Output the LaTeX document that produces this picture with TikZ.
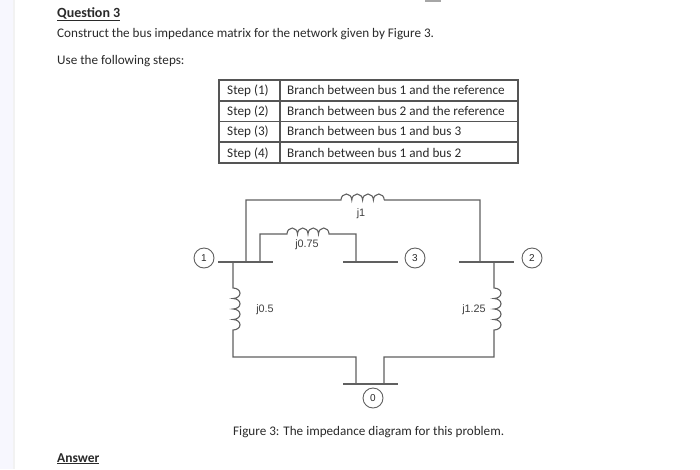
\documentclass[tikz,border=0pt]{standalone}
\usepackage{fontspec}
\setmainfont{Carlito}
\newfontfamily\labfont{Liberation Sans}
\definecolor{ink}{HTML}{2A2A2A}
\definecolor{wire}{HTML}{606060}
\begin{document}
\begin{tikzpicture}[x=1pt,y=-1pt,line join=miter,
  doc/.style={font=\fontsize{13.15}{15}\selectfont,text=ink,anchor=base west,inner sep=0pt},
  cell/.style={font=\fontsize{13.2}{15}\selectfont,text=ink,anchor=base west,inner sep=0pt},
  tab/.style={draw=ink!80,line width=1.1pt},
  wirep/.style={draw=wire,line width=1.1pt},
  lab/.style={font=\labfont\fontsize{10.8}{12}\selectfont,text=ink!90,inner sep=0pt},
  busnum/.style={circle,draw=wire,line width=0.9pt,minimum size=20pt,inner sep=0pt,font=\labfont\fontsize{10}{11}\selectfont,text=ink}]
\useasboundingbox (0,0) rectangle (700,469);
\fill[white] (0,0) rectangle (700,469);
\fill[black!7!blue!3!white] (0,0) rectangle (13,469);
\fill[black!5] (13,0) rectangle (15,469);
\fill[gray!70] (425,0) rectangle (441,2);

% Heading text
\node[doc,font=\bfseries\fontsize{14}{15}\selectfont] (q) at (57,17) {\underline{Question 3}};
\node[doc] (t1) at (57,37) {Construct the bus impedance matrix for the network given by Figure 3.};
\node[doc] (t2) at (57,64) {Use the following steps:};
\node[doc,font=\bfseries\fontsize{13.5}{15}\selectfont] (ans) at (57,462) {\underline{Answer}};
\node[doc] (cap) at (233,435) {Figure 3: The impedance diagram for this problem.};

% Table
\draw[tab] (219,80) rectangle (518,163);
\draw[tab] (219,101) -- (518,101) (219,121.5) -- (518,121.5) (219,142) -- (518,142);
\draw[tab] (280,80) -- (280,163);
\foreach \n/\y/\a/\b in {1/94/Step (1)/Branch between bus 1 and the reference,
 2/115/Step (2)/Branch between bus 2 and the reference,
 3/135.5/Step (3)/Branch between bus 1 and bus 3,
 4/157/Step (4)/Branch between bus 1 and bus 2}{
  \node[cell] (sa\n) at (227,\y) {\a};
  \node[cell] (sb\n) at (287,\y) {\b};
}

% Bus bars
\draw[wirep] (218,262) coordinate (b1l) -- (273,262) coordinate (b1r);
\draw[wirep] (343,262) coordinate (b3l) -- (398,262) coordinate (b3r);
\draw[wirep] (459,262) coordinate (b2l) -- (514,262) coordinate (b2r);
\draw[wirep] (343,384) coordinate (b0l) -- (398,384) coordinate (b0r);

% Bus numbers
\node[busnum] (n1) at (204,258) {1};
\node[busnum] (n2) at (532,258) {2};
\node[busnum] (n3) at (415,258) {3};
\node[busnum] (n0) at (373,398) {0};

% Branch j1 (top)
\coordinate (t1a) at (246,262);
\coordinate (t1b) at (480,262);
\coordinate (j1a) at (341,200);
\coordinate (j1b) at (384,200);
\draw[wirep] (t1a) |- (j1a)
  arc[start angle=180,end angle=360,x radius=5.4,y radius=6]
  arc[start angle=180,end angle=360,x radius=5.4,y radius=6]
  arc[start angle=180,end angle=360,x radius=5.4,y radius=6]
  arc[start angle=180,end angle=360,x radius=5.4,y radius=6]
  -- (j1b) -| (t1b);

% Branch j0.75
\coordinate (t2a) at (260,262);
\coordinate (t2b) at (356,262);
\coordinate (j2a) at (287,234);
\coordinate (j2b) at (329,234);
\draw[wirep] (t2a) |- (j2a)
  arc[start angle=180,end angle=360,x radius=5.25,y radius=6]
  arc[start angle=180,end angle=360,x radius=5.25,y radius=6]
  arc[start angle=180,end angle=360,x radius=5.25,y radius=6]
  arc[start angle=180,end angle=360,x radius=5.25,y radius=6]
  -- (j2b) -| (t2b);

% Branch j0.5 (left) and j1.25 (right)
\coordinate (l1) at (233,262);
\coordinate (l2) at (233,288);
\coordinate (l3) at (233,357);
\coordinate (g1) at (356,384);
\draw[wirep] (l1) -- (l2)
  arc[start angle=-90,end angle=90,x radius=7,y radius=5.25]
  arc[start angle=-90,end angle=90,x radius=7,y radius=5.25]
  arc[start angle=-90,end angle=90,x radius=7,y radius=5.25]
  arc[start angle=-90,end angle=90,x radius=7,y radius=5.25]
  -- (l3) -| (g1);
\coordinate (r1) at (494,262);
\coordinate (r2) at (494,288);
\coordinate (r3) at (494,357);
\coordinate (g2) at (384,384);
\draw[wirep] (r1) -- (r2)
  arc[start angle=-90,end angle=90,x radius=7,y radius=5.25]
  arc[start angle=-90,end angle=90,x radius=7,y radius=5.25]
  arc[start angle=-90,end angle=90,x radius=7,y radius=5.25]
  arc[start angle=-90,end angle=90,x radius=7,y radius=5.25]
  -- (r3) -| (g2);

% Labels
\node[lab] (lj1) at (361,214) {j1};
\node[lab] (lj2) at (307,245) {j0.75};
\node[lab] (lj3) at (265,310) {j0.5};
\node[lab] (lj4) at (474,310) {j1.25};
\end{tikzpicture}
\end{document}
